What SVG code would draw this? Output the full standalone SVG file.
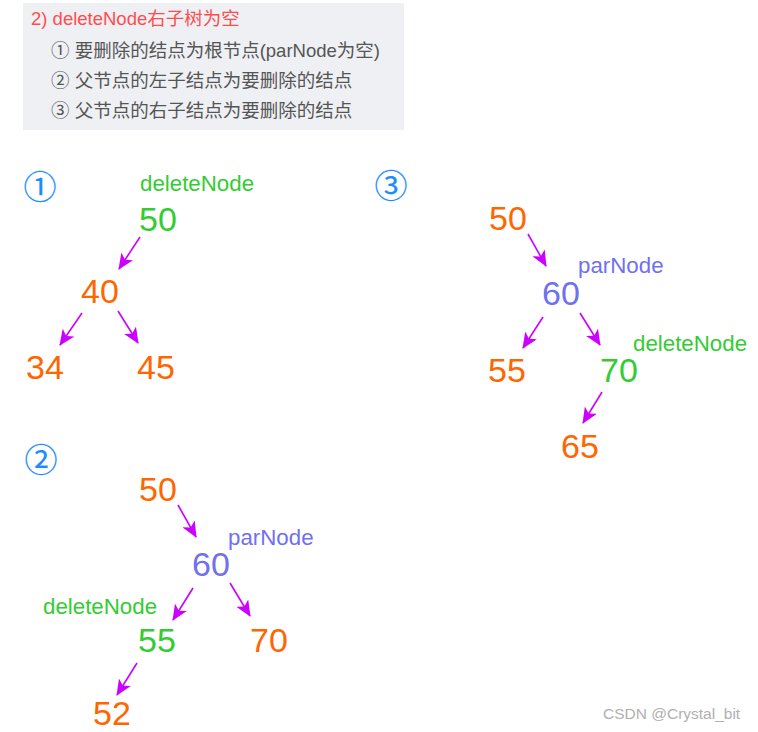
<svg xmlns="http://www.w3.org/2000/svg" width="758" height="732" viewBox="0 0 758 732">
<defs>
<marker id="ah" markerUnits="userSpaceOnUse" markerWidth="16" markerHeight="14" viewBox="0 0 16 14" refX="15" refY="7" orient="auto">
<path d="M0,0 L16,7 L0,14 L4,7 Z" fill="#cc00ff"/>
</marker>
<style>
text{font-family:"Liberation Sans","Noto Sans CJK SC",Arial,sans-serif}
.num{font-size:34px}
.o{fill:#ff6600}
.g{fill:#33cc33}
.p{fill:#7070f0}
.lbl{font-size:22.3px}
.circ{font-family:"Noto Sans CJK SC",sans-serif;font-size:33px;fill:#1a8cff;stroke:#1a8cff;stroke-width:0.2}
.hd{font-size:18.5px;fill:#555555}
.arr{stroke:#cc00ff;stroke-width:1.6;fill:none;marker-end:url(#ah)}
</style>
</defs>
<rect width="758" height="732" fill="#ffffff"/>
<g id="header">
<rect x="23" y="3" width="381" height="127" fill="#eef0f4"/>
<text x="31" y="25" style="font-size:18.5px;fill:#ff4d4f">2) deleteNode右子树为空</text>
<text x="51" y="57" class="hd">① 要删除的结点为根节点(parNode为空)</text>
<text x="51" y="87" class="hd">② 父节点的左子结点为要删除的结点</text>
<text x="51" y="117" class="hd">③ 父节点的右子结点为要删除的结点</text>
</g>
<g id="connectors">
<line class="arr" x1="140" y1="237" x2="119" y2="269"/>
<line class="arr" x1="82" y1="313" x2="60" y2="345"/>
<line class="arr" x1="118" y1="311" x2="138" y2="343"/>
<line class="arr" x1="528" y1="234" x2="546" y2="266"/>
<line class="arr" x1="543" y1="317" x2="523" y2="348"/>
<line class="arr" x1="580" y1="313" x2="600" y2="345"/>
<line class="arr" x1="602" y1="392" x2="583" y2="423"/>
<line class="arr" x1="178" y1="505" x2="196" y2="537"/>
<line class="arr" x1="193" y1="588" x2="173" y2="620"/>
<line class="arr" x1="230" y1="583" x2="250" y2="616"/>
<line class="arr" x1="137" y1="663" x2="117" y2="695"/>
</g>
<g id="tree1">
<text x="40" y="199" class="circ" text-anchor="middle">①</text>
<text x="140" y="191" class="lbl g">deleteNode</text>
<g id="t1-50"><text x="139" y="231" class="num g">50</text></g>
<g id="t1-40"><text x="81" y="303" class="num o">40</text></g>
<g id="t1-34"><text x="26" y="379" class="num o">34</text></g>
<g id="t1-45"><text x="137" y="379" class="num o">45</text></g>
</g>
<g id="tree3">
<text x="391" y="198" class="circ" text-anchor="middle">③</text>
<g id="t3-50"><text x="489" y="230" class="num o">50</text></g>
<text x="578" y="273" class="lbl p">parNode</text>
<g id="t3-60"><text x="542" y="305" class="num p">60</text></g>
<g id="t3-55"><text x="488" y="382" class="num o">55</text></g>
<text x="633" y="351" class="lbl g">deleteNode</text>
<g id="t3-70"><text x="600" y="382" class="num g">70</text></g>
<g id="t3-65"><text x="561" y="458" class="num o">65</text></g>
</g>
<g id="tree2">
<text x="41" y="472" class="circ" text-anchor="middle">②</text>
<g id="t2-50"><text x="139" y="501" class="num o">50</text></g>
<text x="228" y="545" class="lbl p">parNode</text>
<g id="t2-60"><text x="192" y="576" class="num p">60</text></g>
<text x="43" y="614" class="lbl g">deleteNode</text>
<g id="t2-55"><text x="138" y="652" class="num g">55</text></g>
<g id="t2-70"><text x="250" y="652" class="num o">70</text></g>
<g id="t2-52"><text x="93" y="725" class="num o">52</text></g>
</g>
<text x="603" y="719" style="font-size:15.5px;fill:#b0b0b0">CSDN @Crystal_bit</text>
</svg>
